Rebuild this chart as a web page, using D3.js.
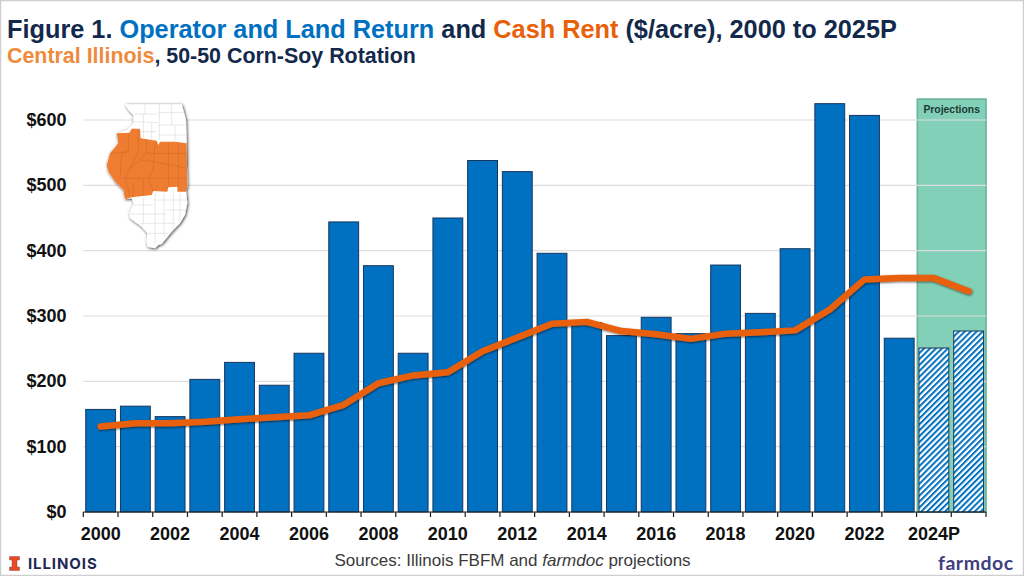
<!DOCTYPE html>
<html>
<head>
<meta charset="utf-8">
<script src="https://cdnjs.cloudflare.com/ajax/libs/d3/7.8.5/d3.min.js"></script>
<style>
  html, body { margin: 0; padding: 0; background: #fff; }
  svg { display: block; font-family: "Liberation Sans", Arial, sans-serif; }
</style>
</head>
<body>
<svg id="chart" width="1024" height="576"></svg>
<script>
// Farm returns and cash rent, central Illinois
const years = d3.range(2000, 2026);
const operatorLandReturn = [157, 162, 146, 203, 229, 194, 243, 444, 377, 243, 450, 538, 521, 396, 290, 270, 298, 273, 378, 304, 403, 625, 607, 266, 251, 277];
const cashRent = [131, 136, 136, 138, 142, 145, 148, 164, 197, 209, 214, 246, 267, 288, 291, 277, 272, 265, 273, 275, 278, 310, 356, 358, 358, 338];
const projectedYears = [2024, 2025];
const yTicks = [0, 100, 200, 300, 400, 500, 600];
const xTickLabels = [2000, 2002, 2004, 2006, 2008, 2010, 2012, 2014, 2016, 2018, 2020, 2022, "2024P"];
const projectionTop = 632;

// State outline and the shaded central region, in map units
const stateOutline = [[105,43],[275,43],[280,60],[288,90],[290,160],[292,290],[288,300],[292,340],[285,375],[270,400],[245,425],[225,450],[215,462],[205,465],[195,475],[172,470],[170,455],[172,430],[155,410],[120,385],[118,370],[130,340],[125,325],[105,328],[100,300],[75,275],[55,245],[50,225],[60,190],[85,160],[80,130],[110,120],[130,100],[130,75],[115,60]];
const centralRegion = [[80,130],[118,128],[125,116],[150,116],[152,145],[200,152],[205,165],[210,155],[255,155],[290,160],[292,290],[288,305],[262,305],[262,290],[235,292],[232,305],[190,303],[185,315],[125,322],[105,328],[100,300],[75,275],[55,245],[50,225],[60,190],[85,160]];
const northCounties = [[[135,72],[205,72]],[[205,68],[280,68]],[[130,95],[205,98]],[[205,105],[288,105]],[[150,125],[200,125]],[[205,135],[290,135]],[[165,43],[165,72]],[[208,43],[208,150]],[[245,43],[245,105]],[[160,72],[160,145]],[[255,105],[255,155]],[[185,98],[185,150]]];
const southCounties = [[[125,345],[190,345]],[[190,330],[292,330]],[[118,372],[230,372]],[[230,360],[290,360]],[[150,400],[255,400]],[[172,430],[235,430]],[[160,322],[160,405]],[[195,305],[195,462]],[[222,300],[222,440]],[[250,300],[250,420]],[[270,305],[270,395]]];
const centralCounties = [[[115,130],[115,185],[95,190],[90,265]],[[145,120],[145,185],[120,235],[105,265],[120,320]],[[170,150],[170,190],[150,210],[120,235]],[[195,155],[190,235],[175,265],[190,303]],[[235,158],[235,292]],[[265,160],[265,290]],[[62,190],[115,185]],[[170,190],[292,190]],[[150,210],[192,215],[292,235]],[[100,265],[292,265]],[[130,280],[130,322]],[[160,265],[160,315]]];

const svg = d3.select("#chart");
const margin = { left: 83.3, right: 986, top: 120, bottom: 512 };

const x = d3.scaleBand().domain(years).range([margin.left, margin.right]).paddingInner(0.14).paddingOuter(0.07);
const y = d3.scaleLinear().domain([0, 600]).range([margin.bottom, margin.top]);
const step = x.step();

// Diagonal hatch for the projected bars
const defs = svg.append("defs");
const hatch = defs.append("pattern").attr("id", "hatch").attr("patternUnits", "userSpaceOnUse")
  .attr("width", 4.2).attr("height", 4.2).attr("patternTransform", "rotate(45)");
hatch.append("rect").attr("width", 4.2).attr("height", 4.2).attr("fill", "#fff");
hatch.append("rect").attr("width", 2).attr("height", 4.2).attr("fill", "#0070C0");

const shadow = defs.append("filter").attr("id", "soft").attr("x", "-20%").attr("y", "-20%").attr("width", "140%").attr("height", "140%");
shadow.append("feDropShadow").attr("dx", 0.5).attr("dy", 1).attr("stdDeviation", 1.3).attr("flood-color", "#000").attr("flood-opacity", 0.6);

const mapShadow = defs.append("filter").attr("id", "mapSoft").attr("x", "-20%").attr("y", "-20%").attr("width", "140%").attr("height", "140%");
mapShadow.append("feDropShadow").attr("dx", 0.8).attr("dy", 0.8).attr("stdDeviation", 1.5).attr("flood-color", "#000").attr("flood-opacity", 0.85);

// Clip regions for the county lines
defs.append("clipPath").attr("id", "stateClip").append("path").attr("id", "stateClipPath");
defs.append("clipPath").attr("id", "centralClip").append("path").attr("id", "centralClipPath");

// Outer frame
svg.append("rect").attr("x", 0.5).attr("y", 0.5).attr("width", 1023).attr("height", 575)
  .attr("fill", "#fff").attr("stroke", "#cfcfcf").attr("stroke-width", 1.5);

// Projection band
const bandLeft = margin.left + 24 * step + 0.8;
svg.append("rect").attr("x", bandLeft).attr("y", y(projectionTop))
  .attr("width", margin.right - bandLeft).attr("height", y(0) - y(projectionTop))
  .attr("fill", "#81D0B7").attr("stroke", "#66B29B").attr("stroke-width", 1.6);

// Horizontal gridlines
svg.append("g").selectAll("line").data(yTicks.filter(d => d > 0)).join("line")
  .attr("x1", margin.left).attr("x2", margin.right)
  .attr("y1", d => y(d)).attr("y2", d => y(d))
  .attr("stroke", "#dedede").attr("stroke-width", 1.2);

svg.append("text").attr("x", (bandLeft + margin.right) / 2).attr("y", y(projectionTop) + 14)
  .attr("text-anchor", "middle").attr("font-size", 10.4).attr("font-weight", 700).attr("fill", "#1d3b33")
  .text("Projections");

// Annual return bars
const isProjected = d => projectedYears.includes(d);
svg.append("g").selectAll("rect").data(years).join("rect")
  .attr("x", d => x(d)).attr("width", x.bandwidth())
  .attr("y", (d, i) => y(operatorLandReturn[i]))
  .attr("height", (d, i) => y(0) - y(operatorLandReturn[i]))
  .attr("fill", d => isProjected(d) ? "url(#hatch)" : "#0070C0")
  .attr("stroke", "#17375E").attr("stroke-width", 1);

// Axes
const xAxisTicks = d3.range(0, years.length + 1).map(i => margin.left + i * step);
const axis = svg.append("g");
axis.append("line").attr("x1", margin.left).attr("x2", margin.right)
  .attr("y1", y(0)).attr("y2", y(0)).attr("stroke", "#1a1a1a").attr("stroke-width", 1.2);
axis.selectAll("line.tick").data(xAxisTicks).join("line").attr("class", "tick")
  .attr("x1", d => d).attr("x2", d => d).attr("y1", y(0)).attr("y2", y(0) + 5)
  .attr("stroke", "#1a1a1a").attr("stroke-width", 1.2);

svg.append("g").selectAll("text").data(yTicks).join("text")
  .attr("x", 66.5).attr("y", d => y(d) + 6)
  .attr("text-anchor", "end").attr("font-size", 18).attr("font-weight", 700).attr("fill", "#111")
  .text(d => "$" + d);

svg.append("g").selectAll("text").data(xTickLabels).join("text")
  .attr("x", d => margin.left + (parseInt(d) - 2000 + 0.5) * step)
  .attr("y", 540).attr("text-anchor", "middle").attr("font-size", 18).attr("font-weight", 700).attr("fill", "#111")
  .text(d => d);

// Cash rent line
const rentLine = d3.line().x((d, i) => x(years[i]) + x.bandwidth() / 2).y(d => y(d));
svg.append("path").datum(cashRent).attr("d", rentLine)
  .attr("fill", "none").attr("stroke", "#E8610A").attr("stroke-width", 6.5)
  .attr("stroke-linecap", "round").attr("stroke-linejoin", "round").attr("filter", "url(#soft)");

// Locator map of the state
const mapX = d3.scaleLinear().domain([0, 3]).range([90, 91]);
const mapY = d3.scaleLinear().domain([0, 3]).range([90, 91]);
const mapLine = d3.line().x(d => mapX(d[0])).y(d => mapY(d[1]));
d3.select("#stateClipPath").attr("d", mapLine(stateOutline) + "Z");
d3.select("#centralClipPath").attr("d", mapLine(centralRegion) + "Z");
const map = svg.append("g");
map.append("path").attr("d", mapLine(stateOutline) + "Z").attr("fill", "#fff").attr("filter", "url(#mapSoft)");
map.append("g").attr("clip-path", "url(#stateClip)").selectAll("path").data(northCounties.concat(southCounties)).join("path")
  .attr("d", mapLine).attr("fill", "none").attr("stroke", "#e2e2e2").attr("stroke-width", 0.8);
map.append("path").attr("d", mapLine(centralRegion) + "Z").attr("fill", "#EE7D31");
map.append("g").attr("clip-path", "url(#centralClip)").selectAll("path").data(centralCounties).join("path")
  .attr("d", mapLine).attr("fill", "none").attr("stroke", "#D46F29").attr("stroke-width", 0.7);

// Titles
const title = svg.append("text").attr("x", 7).attr("y", 38).attr("font-size", 25.3).attr("font-weight", 700).attr("fill", "#13294B");
[["Figure 1. ", "#13294B"], ["Operator and Land Return", "#0070C0"], [" and ", "#13294B"], ["Cash Rent", "#E8610A"], [" ($/acre), 2000 to 2025P", "#13294B"]]
  .forEach(([t, c]) => title.append("tspan").attr("fill", c).text(t));
const subtitle = svg.append("text").attr("x", 7).attr("y", 62.5).attr("font-size", 21.4).attr("font-weight", 700).attr("fill", "#13294B");
[["Central Illinois", "#F08A3C"], [", 50-50 Corn-Soy Rotation", "#13294B"]]
  .forEach(([t, c]) => subtitle.append("tspan").attr("fill", c).text(t));

// Source line
const source = svg.append("text").attr("x", 512.5).attr("y", 566).attr("text-anchor", "middle").attr("font-size", 17).attr("fill", "#3a3a3a");
source.append("tspan").text("Sources: Illinois FBFM and ");
source.append("tspan").attr("font-style", "italic").text("farmdoc");
source.append("tspan").text(" projections");

// Footer marks
const blockI = [[10,0],[20,0],[20,3.5],[17.5,3.5],[17.5,10.5],[20,10.5],[20,14],[10,14],[10,10.5],[12.5,10.5],[12.5,3.5],[10,3.5]];
svg.append("path").attr("transform", "translate(-0.5,556.5)")
  .attr("d", d3.line()(blockI) + "Z").attr("fill", "#E84A27").attr("stroke", "#7a3a3a").attr("stroke-width", 0.4);
svg.append("text").attr("x", 28).attr("y", 569).attr("font-size", 15).attr("font-weight", 700)
  .attr("font-family", "Inter, 'Liberation Sans', sans-serif").attr("letter-spacing", 0.9).attr("fill", "#1f2a52").text("ILLINOIS");
svg.append("text").attr("x", 938).attr("y", 570).attr("font-size", 19.5).attr("font-weight", 700)
  .attr("font-family", "Lato, 'Liberation Sans', sans-serif").attr("letter-spacing", 0.5).attr("fill", "#3f3f7f").text("farmdoc");
</script>
</body>
</html>
